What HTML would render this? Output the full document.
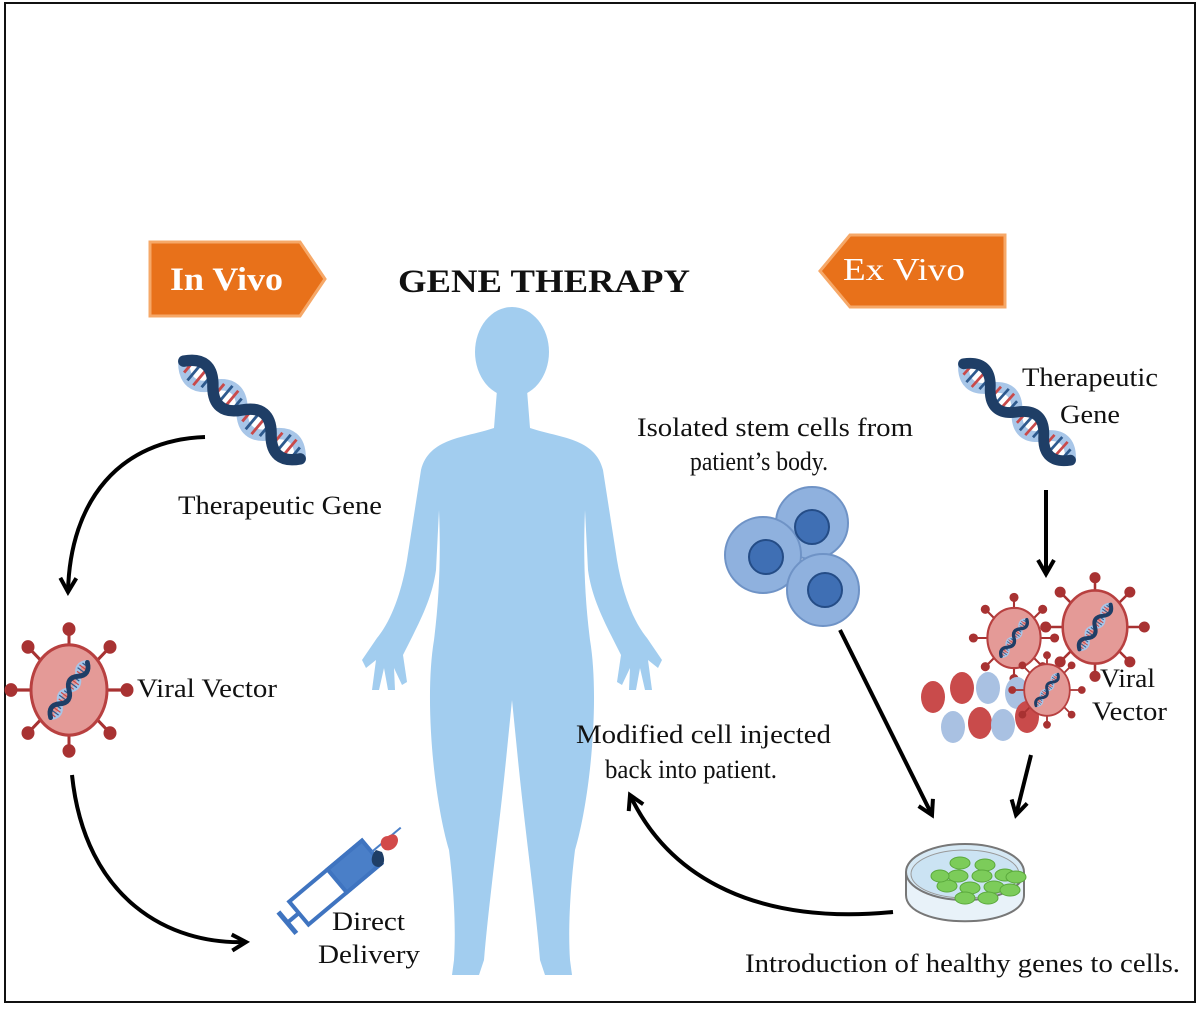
<!DOCTYPE html>
<html><head><meta charset="utf-8"><style>
html,body{margin:0;padding:0;background:#fff;}
svg{display:block;}
text{font-family:"Liberation Serif",serif;fill:#111;}
</style></head><body>
<svg width="1200" height="1009" viewBox="0 0 1200 1009" xmlns="http://www.w3.org/2000/svg">
<defs>
<g id="dna">
  <path d="M-80,0 C-67,16 -53,16 -40,0 C-27,-16 -13,-16 0,0 C13,16 27,16 40,0 C53,-16 67,-16 80,0" fill="none" stroke="#a8c6e8" stroke-width="12" stroke-linecap="round"/>
  <g stroke-width="3">
    <line x1="-72" y1="-9" x2="-72" y2="9" stroke="#c94a4a"/><line x1="-64" y1="-13" x2="-64" y2="13" stroke="#2e5a8e"/>
    <line x1="-56" y1="-13" x2="-56" y2="13" stroke="#c94a4a"/><line x1="-48" y1="-9" x2="-48" y2="9" stroke="#2e5a8e"/>
    <line x1="-32" y1="-9" x2="-32" y2="9" stroke="#c94a4a"/><line x1="-24" y1="-13" x2="-24" y2="13" stroke="#2e5a8e"/>
    <line x1="-16" y1="-13" x2="-16" y2="13" stroke="#c94a4a"/><line x1="-8" y1="-9" x2="-8" y2="9" stroke="#2e5a8e"/>
    <line x1="8" y1="-9" x2="8" y2="9" stroke="#c94a4a"/><line x1="16" y1="-13" x2="16" y2="13" stroke="#2e5a8e"/>
    <line x1="24" y1="-13" x2="24" y2="13" stroke="#c94a4a"/><line x1="32" y1="-9" x2="32" y2="9" stroke="#2e5a8e"/>
    <line x1="48" y1="-9" x2="48" y2="9" stroke="#c94a4a"/><line x1="56" y1="-13" x2="56" y2="13" stroke="#2e5a8e"/>
    <line x1="64" y1="-13" x2="64" y2="13" stroke="#c94a4a"/><line x1="72" y1="-9" x2="72" y2="9" stroke="#2e5a8e"/>
  </g>
  <path d="M-80,0 C-67,-16 -53,-16 -40,0 C-27,16 -13,16 0,0 C13,-16 27,-16 40,0 C53,16 67,16 80,0" fill="none" stroke="#1f3e66" stroke-width="12" stroke-linecap="round"/>
</g>
<g id="virus">
  <g stroke="#a83232" stroke-width="3" fill="#a83232">
    <line x1="0" y1="-58" x2="0" y2="58"/><line x1="-58" y1="0" x2="58" y2="0"/>
    <line x1="-41" y1="-41" x2="41" y2="41"/><line x1="41" y1="-41" x2="-41" y2="41"/>
    <circle cx="0" cy="-58" r="5"/><circle cx="0" cy="58" r="5"/><circle cx="-58" cy="0" r="5"/><circle cx="58" cy="0" r="5"/>
    <circle cx="-41" cy="-41" r="5"/><circle cx="41" cy="41" r="5"/><circle cx="41" cy="-41" r="5"/><circle cx="-41" cy="41" r="5"/>
  </g>
  <ellipse cx="0" cy="0" rx="38" ry="43" fill="#e49a97" stroke="#b84040" stroke-width="3"/>
  <use href="#dna" transform="rotate(-55) scale(0.4)"/>
</g>
<marker id="ah" viewBox="0 0 10 10" refX="8" refY="5" markerWidth="5" markerHeight="5" orient="auto">
  <path d="M1,1 L8,5 L1,9" fill="none" stroke="#000" stroke-width="2"/>
</marker>
</defs>

<rect x="5" y="3" width="1190" height="999" fill="none" stroke="#111" stroke-width="2"/>

<!-- banners -->
<path d="M150,242 L300,242 L325,279 L300,316 L150,316 Z" fill="#e8711a" stroke="#f6a868" stroke-width="3"/>
<text x="170" y="290" font-size="33" font-weight="bold" style="fill:#fff" textLength="113" lengthAdjust="spacingAndGlyphs">In Vivo</text>
<path d="M1005,235 L850,235 L820,271 L850,307 L1005,307 Z" fill="#e8711a" stroke="#f6a868" stroke-width="3"/>
<text x="843" y="280" font-size="32" style="fill:#fff" textLength="122" lengthAdjust="spacingAndGlyphs">Ex Vivo</text>

<text x="398" y="292" font-size="33" font-weight="bold" textLength="292" lengthAdjust="spacingAndGlyphs">GENE THERAPY</text>

<!-- human -->
<g fill="#a2cdef">
<ellipse cx="512" cy="352" rx="37" ry="45"/>
<path d="M497,390 L527,390 L530,428 C560,438 595,438 603,470 L617,560 C622,590 632,620 647,638 L662,660 L658,668 L648,660 L652,690 L645,690 L640,668 L636,690 L629,690 L630,668 L622,685 L617,682 L621,655 C606,625 592,600 588,570 L585,510 C583,560 585,600 590,640 C600,700 590,800 575,850 C570,890 568,930 570,960 L572,975 L545,975 L540,960 C535,900 525,830 518,760 L512,700 L506,760 C499,830 489,900 484,960 L479,975 L452,975 L454,960 C456,930 454,890 449,850 C434,800 424,700 434,640 C439,600 441,560 439,510 L436,570 C432,600 418,625 403,655 L407,682 L402,685 L394,668 L395,690 L388,690 L384,668 L379,690 L372,690 L376,660 L366,668 L362,660 L377,638 C392,620 402,590 407,560 L421,470 C429,438 464,438 494,428 Z"/>
</g>

<!-- left side -->
<use href="#dna" transform="translate(242,410) rotate(40) scale(0.95)"/>
<text x="178" y="514" font-size="26" textLength="204" lengthAdjust="spacingAndGlyphs">Therapeutic Gene</text>
<path d="M205,437 C120,440 70,500 68,592" fill="none" stroke="#000" stroke-width="4" marker-end="url(#ah)"/>
<use href="#virus" transform="translate(69,690) scale(1.0,1.05)"/>
<text x="137" y="697" font-size="26" textLength="140" lengthAdjust="spacingAndGlyphs">Viral Vector</text>
<path d="M72,775 C85,900 170,945 246,942" fill="none" stroke="#000" stroke-width="4" marker-end="url(#ah)"/>

<!-- syringe -->
<g transform="translate(318,897) rotate(-40)">
  <line x1="-40" y1="-14" x2="-40" y2="14" stroke="#3f74c0" stroke-width="5"/>
  <line x1="-40" y1="0" x2="-25" y2="0" stroke="#3f74c0" stroke-width="4"/>
  <rect x="-25" y="-15" width="95" height="30" fill="#fff" stroke="#3f74c0" stroke-width="4"/>
  <rect x="25" y="-15" width="45" height="30" fill="#4a7fc8" stroke="#3f74c0" stroke-width="4"/>
  <line x1="70" y1="0" x2="108" y2="0" stroke="#4a7fc8" stroke-width="2"/>
</g>
<path d="M388,836 C380,836 378,846 385,850 C392,852 398,846 398,840 C398,836 394,832 388,836 Z" fill="#d24a4a"/>
<path d="M376,850 C370,856 370,866 378,867 C384,867 386,860 382,852 Z" fill="#1f3e66"/>
<text x="332" y="930" font-size="26" textLength="73" lengthAdjust="spacingAndGlyphs">Direct</text>
<text x="318" y="963" font-size="26" textLength="102" lengthAdjust="spacingAndGlyphs">Delivery</text>

<!-- stem cells -->
<g stroke="#6f93c6" stroke-width="2">
<circle cx="812" cy="523" r="36" fill="#8fb1de"/>
<circle cx="763" cy="555" r="38" fill="#8fb1de"/>
<circle cx="823" cy="590" r="36" fill="#8fb1de"/>
</g>
<g fill="#3f6fb4" stroke="#244c86" stroke-width="2">
<circle cx="812" cy="527" r="17"/><circle cx="766" cy="557" r="17"/><circle cx="825" cy="590" r="17"/>
</g>
<text x="637" y="436" font-size="26" textLength="276" lengthAdjust="spacingAndGlyphs">Isolated stem cells from</text>
<text x="690" y="470" font-size="26" textLength="138" lengthAdjust="spacingAndGlyphs">patient’s body.</text>

<!-- right DNA -->
<use href="#dna" transform="translate(1017,412) rotate(42) scale(0.9)"/>
<text x="1022" y="386" font-size="26" textLength="136" lengthAdjust="spacingAndGlyphs">Therapeutic</text>
<text x="1060" y="423" font-size="26" textLength="60" lengthAdjust="spacingAndGlyphs">Gene</text>
<path d="M1046,490 L1046,574" fill="none" stroke="#000" stroke-width="4" marker-end="url(#ah)"/>

<!-- viruses & ovals -->
<use href="#virus" transform="translate(1095,627) scale(0.85)"/>
<use href="#virus" transform="translate(1014,638) scale(0.7)"/>
<g>
<ellipse cx="933" cy="697" rx="12" ry="16" fill="#c94b4b"/>
<ellipse cx="962" cy="688" rx="12" ry="16" fill="#c94b4b"/>
<ellipse cx="988" cy="688" rx="12" ry="16" fill="#a9c1e2"/>
<ellipse cx="1017" cy="693" rx="12" ry="16" fill="#a9c1e2"/>
<ellipse cx="953" cy="727" rx="12" ry="16" fill="#a9c1e2"/>
<ellipse cx="980" cy="723" rx="12" ry="16" fill="#c94b4b"/>
<ellipse cx="1003" cy="725" rx="12" ry="16" fill="#a9c1e2"/>
<ellipse cx="1027" cy="717" rx="12" ry="16" fill="#c94b4b"/>
</g>
<use href="#virus" transform="translate(1047,690) scale(0.6)"/>
<text x="1100" y="687" font-size="26" textLength="55" lengthAdjust="spacingAndGlyphs">Viral</text>
<text x="1092" y="720" font-size="26" textLength="75" lengthAdjust="spacingAndGlyphs">Vector</text>

<!-- arrows to dish -->
<path d="M840,630 L932,815" fill="none" stroke="#000" stroke-width="4" marker-end="url(#ah)"/>
<path d="M1031,755 L1016,815" fill="none" stroke="#000" stroke-width="4" marker-end="url(#ah)"/>

<!-- petri dish -->
<path d="M906,872 L906,895 C906,930 1024,930 1024,895 L1024,872" fill="#e8f2f9" stroke="#777" stroke-width="2"/>
<ellipse cx="965" cy="872" rx="59" ry="28" fill="#d6e9f5" stroke="#777" stroke-width="2"/>
<ellipse cx="965" cy="874" rx="54" ry="24" fill="#cbe3f3" stroke="#999" stroke-width="1"/>
<g fill="#7ccc5a" stroke="#5aa83c" stroke-width="1">
<ellipse cx="960" cy="863" rx="10" ry="6"/><ellipse cx="985" cy="865" rx="10" ry="6"/><ellipse cx="958" cy="876" rx="10" ry="6"/>
<ellipse cx="982" cy="876" rx="10" ry="6"/><ellipse cx="1005" cy="875" rx="10" ry="6"/><ellipse cx="1016" cy="877" rx="10" ry="6"/>
<ellipse cx="947" cy="886" rx="10" ry="6"/><ellipse cx="970" cy="888" rx="10" ry="6"/><ellipse cx="994" cy="887" rx="10" ry="6"/>
<ellipse cx="965" cy="898" rx="10" ry="6"/><ellipse cx="988" cy="898" rx="10" ry="6"/><ellipse cx="1010" cy="890" rx="10" ry="6"/>
<ellipse cx="940" cy="876" rx="9" ry="6"/>
</g>
<path d="M893,912 C760,925 670,880 630,795" fill="none" stroke="#000" stroke-width="4" marker-end="url(#ah)"/>
<text x="576" y="743" font-size="26" textLength="255" lengthAdjust="spacingAndGlyphs">Modified cell injected</text>
<text x="605" y="778" font-size="26" textLength="172" lengthAdjust="spacingAndGlyphs">back into patient.</text>
<text x="745" y="972" font-size="26" textLength="435" lengthAdjust="spacingAndGlyphs">Introduction of healthy genes to cells.</text>
</svg>
</body></html>
